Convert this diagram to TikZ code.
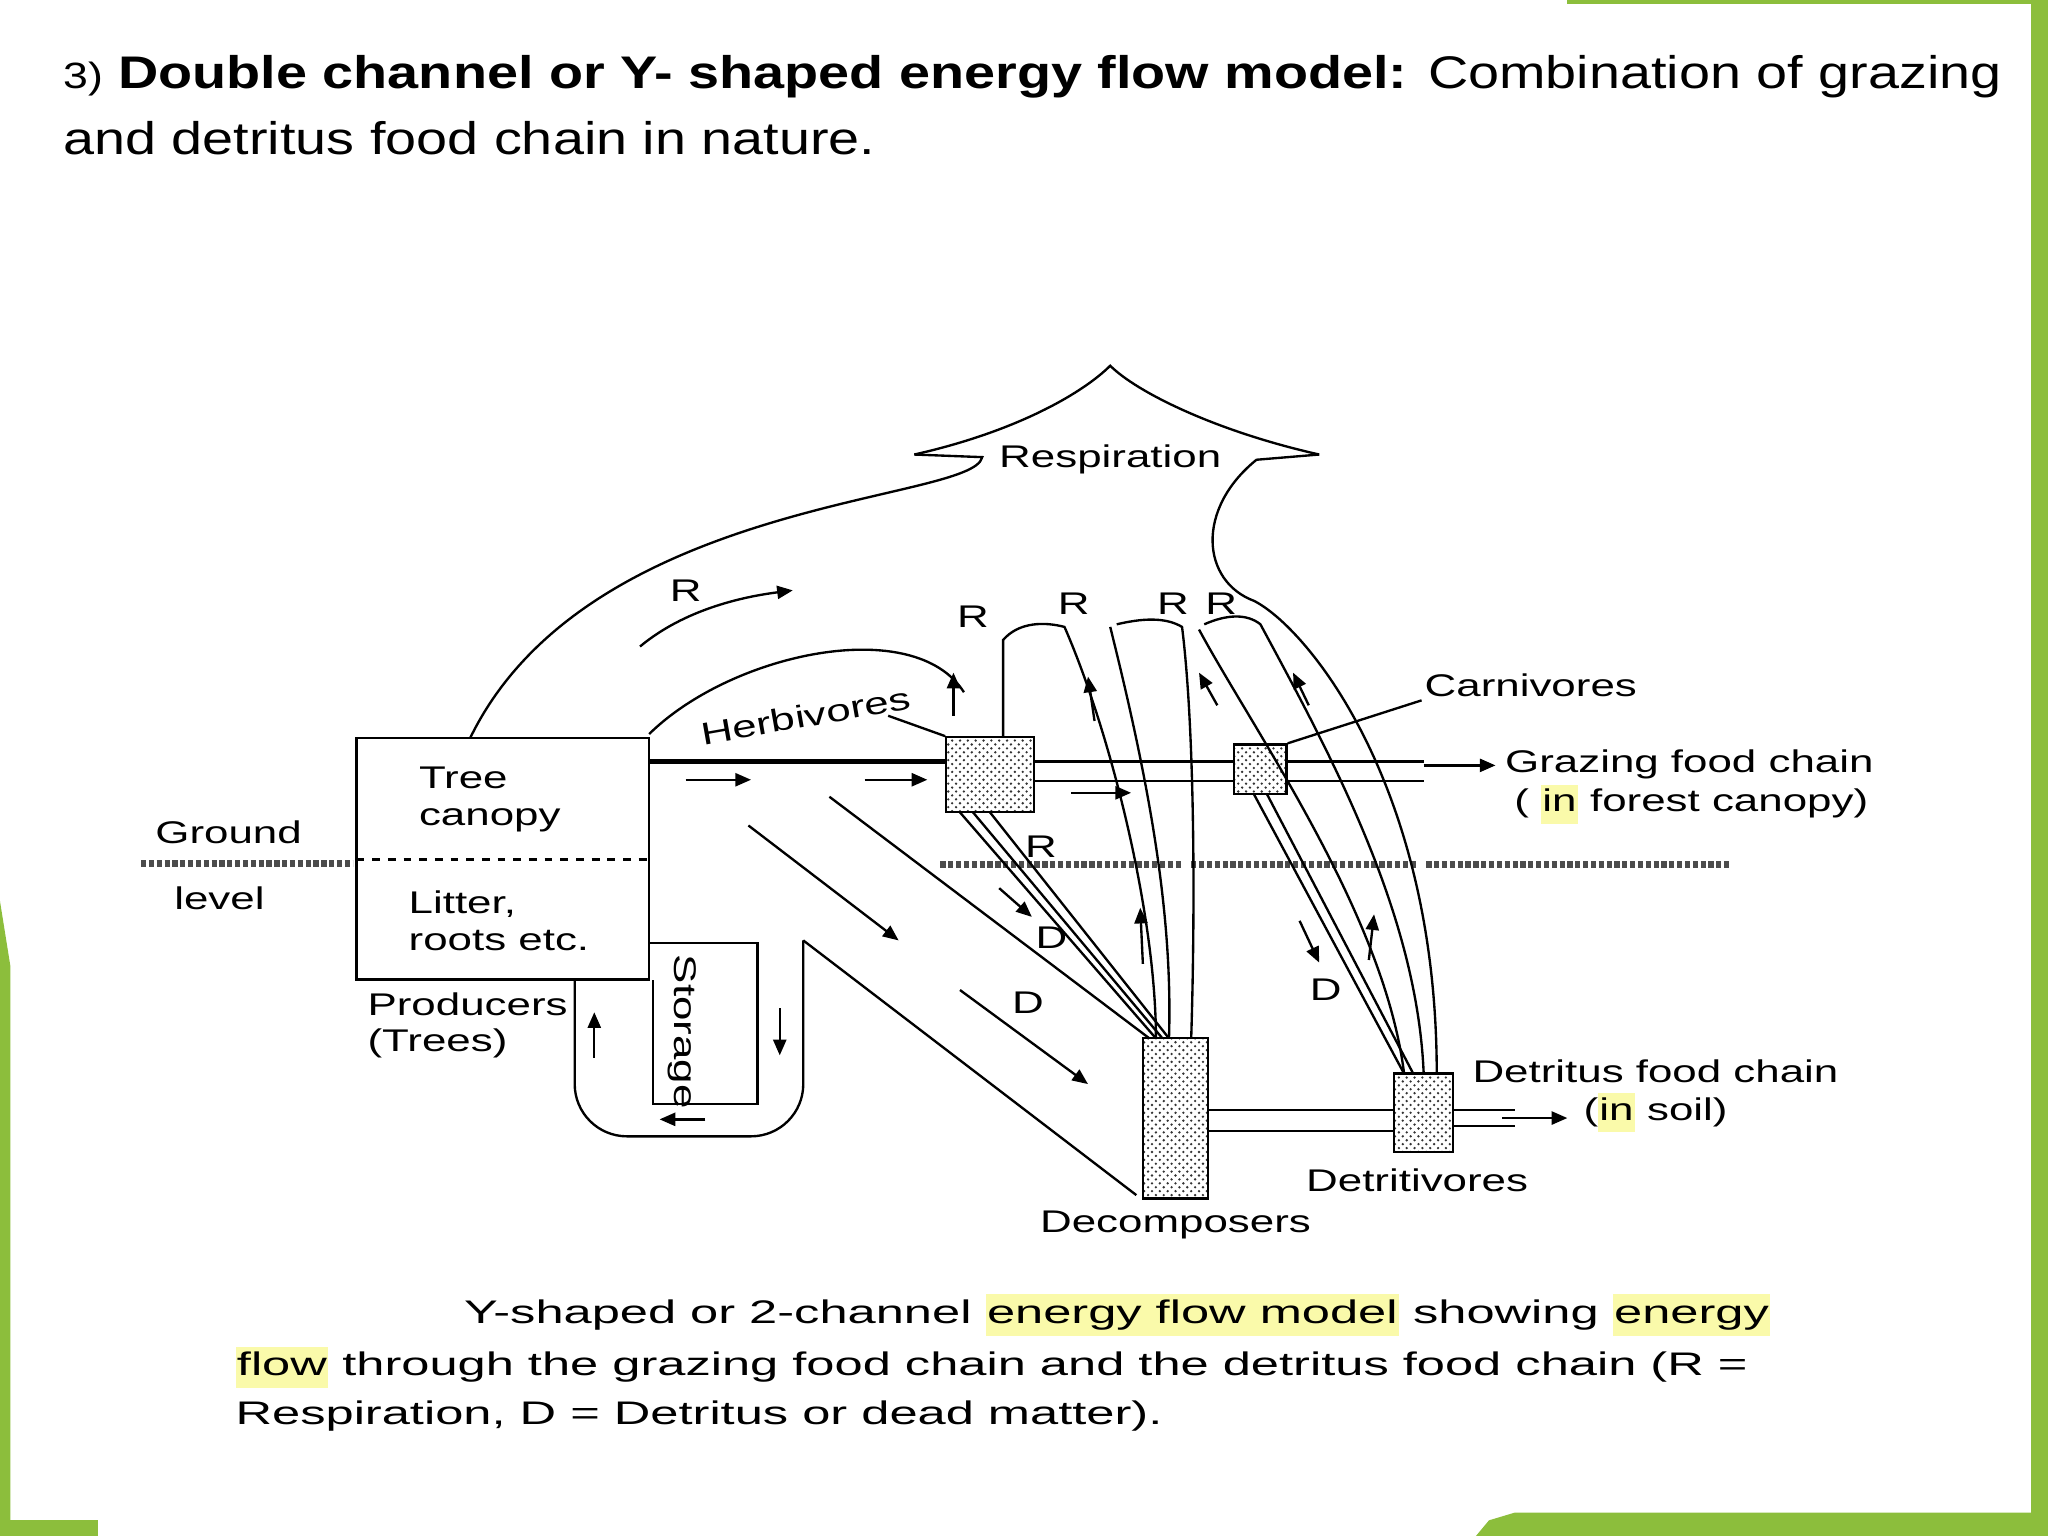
\documentclass[tikz,border=0pt]{standalone}
\usepackage{fontspec}
\setmainfont{Liberation Sans}
\newfontfamily\wide[FakeStretch=1.4]{Liberation Sans}
\newfontfamily\wider[FakeStretch=1.55]{Liberation Sans}
\newfontfamily\ttl[FakeStretch=1.22]{Liberation Sans}
\usetikzlibrary{patterns,arrows.meta}
\definecolor{grn}{RGB}{140,190,60}
\definecolor{hl}{RGB}{250,250,170}
\setlength{\fboxsep}{0.5pt}
\tikzset{
  lbl/.style={font=\wide\fontsize{12}{14}\selectfont, inner sep=1pt},
  captxt/.style={font=\wider\fontsize{12.5}{15}\selectfont, inner sep=0pt, anchor=base west},
  ln/.style={line width=0.9pt},
  arr/.style={line width=0.9pt,-{Triangle[length=6pt,width=5pt]}},
  hatch/.style={draw,line width=0.9pt,pattern=crosshatch dots,pattern color=black!80},
  gnd/.style={line width=2.5pt,dash pattern=on 2pt off 1pt,black!70},
}
\begin{document}
\begin{tikzpicture}[x=0.5pt,y=-0.5pt]
\useasboundingbox (0,0) rectangle (1568,1176);
\fill[white] (0,0) rectangle (1568,1176);
% slide decorations
\fill[grn] (1555,0) rectangle (1568,1176);
\fill[grn] (1200,0) rectangle (1568,3);
\fill[grn] (0,690) -- (8,740) -- (8,1176) -- (0,1176) -- cycle;
\fill[grn] (0,1164) rectangle (75,1176);
\fill[grn] (1140,1164) -- (1160,1158) -- (1568,1158) -- (1568,1176) -- (1130,1176) -- cycle;
% title
\node[anchor=base west,inner sep=0pt,font=\ttl\fontsize{17.5}{21}\selectfont] (title1) at (48,68) {{\fontsize{14}{16}\selectfont 3)} \textbf{Double channel or Y- shaped energy flow model:} Combination of grazing};
\node[anchor=base west,inner sep=0pt,font=\ttl\fontsize{17.5}{21}\selectfont] (title2) at (48,118) {and detritus food chain in nature.};
% producer box
\node[draw,ln,minimum width=112pt,minimum height=92.5pt,inner sep=0pt] (box) at (385,657.5) {};
\draw[ln,dashed] (273,658) -- (497,658);
\node[lbl,align=left] (canopy) at (375,612) {Tree\\canopy};
\node[lbl,align=left] (litter) at (382,705) {Litter,\\roots etc.};
\node[lbl,align=left] (prod) at (358,785) {Producers\\(Trees)};
\node[lbl] (ground) at (175,637) {Ground};
\node[lbl] (level) at (168,688) {level};
\draw[gnd] (108,661) -- (270,661);
\draw[gnd] (720,662) -- (905,662);
\draw[gnd] (912,662) -- (1085,662);
\draw[gnd] (1092,662) -- (1325,662);
% storage loop
\draw[ln,rounded corners=20pt] (440,750) -- (440,870) -- (615,870) -- (615,720);
\draw[ln] (615,720) -- (870,915);
\draw[ln] (497,722) -- (580,722) -- (580,845) -- (500,845) -- (500,750);
\node[lbl,rotate=-90] (storage) at (522,790) {Storage};
\draw[arr] (455,810) -- (455,775);
\draw[arr] (597,772) -- (597,808);
\draw[arr] (540,857) -- (505,857);
% boxes
\node[hatch,minimum width=33.5pt,minimum height=28.5pt,inner sep=0pt] (herb) at (758,593) {};
\node[hatch,minimum width=20pt,minimum height=19pt,inner sep=0pt] (carn) at (965,589) {};
\node[hatch,minimum width=25pt,minimum height=61.5pt,inner sep=0pt] (dec) at (900,856) {};
\node[hatch,minimum width=22.5pt,minimum height=30pt,inner sep=0pt] (det) at (1090,852) {};
% grazing chain
\draw[line width=1.6pt] (497,583) -- (herb.west |- 0,583);
\draw[ln] (792,583) -- (945,583) (792,598) -- (945,598);
\draw[ln] (985,583) -- (1090,583) (985,598) -- (1090,598);
\draw[arr] (1090,586) -- (1145,586);
\node[lbl,anchor=west] (graz) at (1150,585) {Grazing food chain};
\node[lbl,anchor=west] (graz2) at (1157,616) {( \colorbox{hl}{\strut in} forest canopy)};
% detritus chain
\draw[ln] (925,850) -- (1068,850) (925,866) -- (1068,866);
\draw[ln] (1113,850) -- (1160,850) (1113,862) -- (1160,862);
\draw[arr] (1150,856) -- (1200,856);
\node[lbl,anchor=west] (detc) at (1125,820) {Detritus food chain};
\node[lbl,anchor=west] (detc2) at (1210,852) {(\colorbox{hl}{\strut in} soil)};
\node[lbl] (detl) at (1085,904) {Detritivores};
\node[lbl] (decl) at (900,938) {Decomposers};
% diagonal band to decomposers
\draw[ln] (635,610) -- (880,795);
\draw[ln] (735,622) -- (885,795) (745,622) -- (890,795) (758,622) -- (895,795);
\draw[ln] (960,608) -- (1075,822) (970,608) -- (1082,822);
% respiration arrow
\draw[ln] (700,348) .. controls (780,330) and (830,300) .. (850,280) .. controls (870,300) and (930,330) .. (1010,348);
\draw[ln] (700,348) -- (752,350) .. controls (745,385) and (450,380) .. (360,565);
\draw[ln] (1010,348) -- (962,352) .. controls (915,390) and (920,445) .. (960,460) .. controls (1000,480) and (1100,600) .. (1100,822);
\node[lbl] (resp) at (850,352) {Respiration};
% R loops
\draw[ln] (768,565) -- (768,490) .. controls (780,476) and (800,476) .. (815,480) .. controls (850,560) and (885,700) .. (885,795);
\draw[ln] (850,480) .. controls (880,600) and (898,700) .. (895,795);
\draw[ln] (855,478) .. controls (880,472) and (895,474) .. (905,480) .. controls (915,560) and (915,700) .. (912,795);
\draw[ln] (918,482) .. controls (960,560) and (1060,700) .. (1075,822);
\draw[ln] (922,478) .. controls (940,470) and (955,470) .. (965,478) .. controls (1020,580) and (1085,700) .. (1090,822);
% herbivore arc
\draw[ln] (497,562) .. controls (560,500) and (700,470) .. (738,530);
\node[lbl,rotate=10] (herbl) at (617,548) {Herbivores};
\draw[ln] (680,548) -- (herb.north west);
\node[lbl] (carnl) at (1172,525) {Carnivores};
\draw[ln] (carnl.south west) -- (carn.north east);
% R and D labels
\node[lbl] (r1) at (525,452) {R};
\draw[arr] (490,495) .. controls (520,470) and (560,458) .. (607,452);
\node[lbl] (r2) at (745,472) {R};
\node[lbl] (r3) at (822,462) {R};
\node[lbl] (r4) at (898,462) {R};
\node[lbl] (r5) at (935,462) {R};
\node[lbl] (r6) at (797,648) {R};
\node[lbl] (d1) at (805,718) {D};
\node[lbl] (d2) at (787,768) {D};
\node[lbl] (d3) at (1015,758) {D};
% small arrows
\draw[arr] (525,597) -- (575,597);
\draw[arr] (662,597) -- (710,597);
\draw[arr] (820,607) -- (866,607);
\draw[arr] (573,632) -- (688,720);
\draw[arr] (735,758) -- (833,830);
\draw[arr] (765,680) -- (790,702);
\draw[arr] (995,705) -- (1010,737);
\draw[arr] (730,548) -- (730,515);
\draw[arr] (838,552) -- (833,518);
\draw[arr] (875,738) -- (873,695);
\draw[arr] (1048,735) -- (1052,700);
\draw[arr] (932,540) -- (918,515);
\draw[arr] (1002,540) -- (990,515);
% caption
\node[captxt] (c1) at (355,1013) {Y-shaped or 2-channel \colorbox{hl}{\strut energy flow model} showing \colorbox{hl}{\strut energy}};
\node[captxt] (c2) at (180,1053) {\colorbox{hl}{\strut flow} through the grazing food chain and the detritus food chain (R =};
\node[captxt] (c3) at (180,1091) {Respiration, D = Detritus or dead matter).};
\end{tikzpicture}
\end{document}
